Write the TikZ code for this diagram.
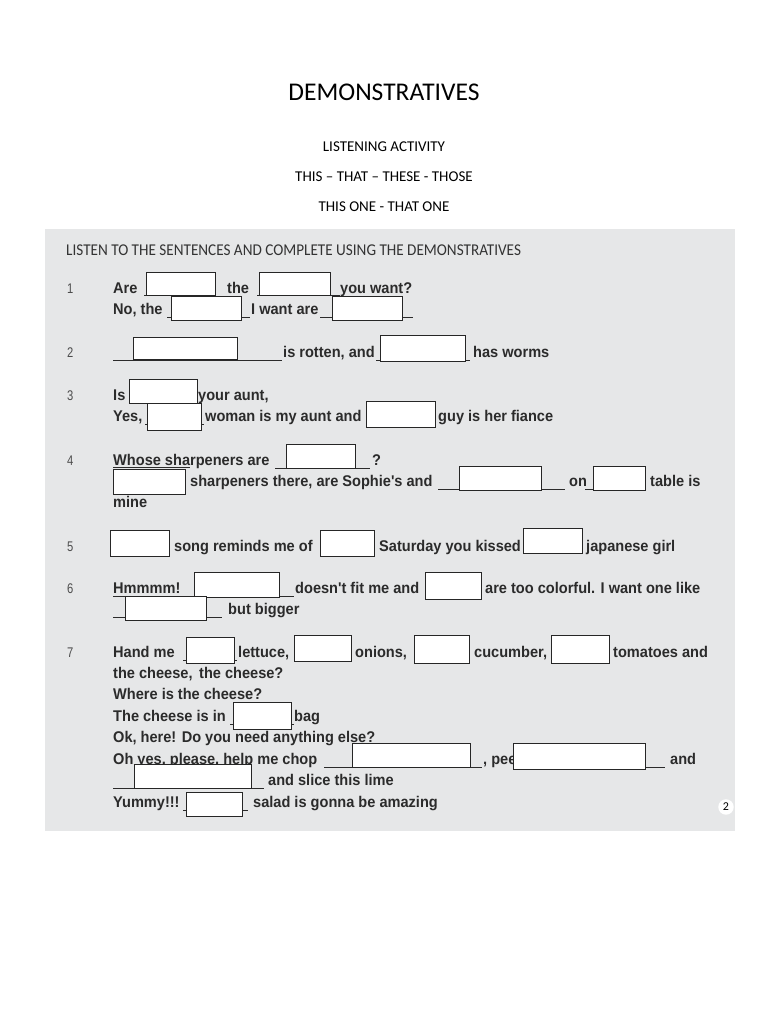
\documentclass[tikz,border=0pt]{standalone}
\usepackage{fontspec}
\setmainfont{Carlito}
\newfontfamily\narrowb[FakeStretch=0.94]{Liberation Sans}
\newfontfamily\narrowr[FakeStretch=0.8]{Liberation Sans}
\newfontfamily\calib[FakeStretch=0.92]{Carlito}
\definecolor{panel}{HTML}{E6E7E8}
\definecolor{ink}{HTML}{2B2B2B}
\newcounter{tn}\newcounter{bn}
\newcommand\T[3]{\stepcounter{tn}\node[txt] (t\arabic{tn}) at (#1,-#2) {#3};}
\newcommand\N[3]{\stepcounter{tn}\node[num] (t\arabic{tn}) at (#1,-#2) {#3};}
\newcommand\B[4]{\stepcounter{bn}\node[box,minimum width=#3-#1,minimum height=#4-#2] (b\arabic{bn}) at ({(#1+#3)/2},{-(#2+#4)/2}) {};}
\newcommand\U[3]{\stepcounter{bn}\coordinate (ua\arabic{bn}) at (#1,-#3);\coordinate (ub\arabic{bn}) at (#2,-#3);\draw[uline] (ua\arabic{bn}) -- (ub\arabic{bn});}
\begin{document}
\begin{tikzpicture}[x=1pt,y=1pt,
  txt/.style={anchor=base west,inner sep=0pt,font=\narrowb\bfseries\fontsize{15.5}{17}\selectfont,text=ink},
  num/.style={anchor=base west,inner sep=0pt,font=\narrowr\fontsize{14}{16}\selectfont,text=black!70},
  box/.style={draw=black!85,fill=white,line width=0.8pt,inner sep=0pt},
  uline/.style={draw=ink,line width=0.9pt},
  head/.style={anchor=base,inner sep=0pt,text=black}]
\useasboundingbox (0,0) rectangle (768,-1024);
\fill[white] (0,0) rectangle (768,-1024);
\node[head,font=\fontsize{25.5}{28}\selectfont] (title) at (384,-101) {DEMONSTRATIVES};
\node[head,font=\fontsize{15}{17}\selectfont] (s1) at (384,-152) {LISTENING ACTIVITY};
\node[head,font=\fontsize{15}{17}\selectfont] (s2) at (384,-182) {THIS – THAT – THESE - THOSE};
\node[head,font=\fontsize{15}{17}\selectfont] (s3) at (384,-212) {THIS ONE - THAT ONE};
\fill[panel] (45,-229) rectangle (735,-831);
\node[anchor=base west,inner sep=0pt,font=\calib\fontsize{16.5}{18}\selectfont,text=black!80] (hd) at (66,-255) {LISTEN TO THE SENTENCES AND COMPLETE USING THE DEMONSTRATIVES};
% numbers
\N{67}{293}{1}\N{67}{357}{2}\N{67}{400}{3}\N{67}{465}{4}\N{67}{551}{5}\N{67}{593}{6}\N{67}{657}{7}
% 1
\T{113}{293}{Are}\U{144}{216}{295}\T{227}{293}{the}\U{257}{340}{295}\T{340}{293}{you want?}
\T{113}{314}{No, the}\U{167}{250}{317}\T{251}{314}{I want are}\U{320}{413}{317}
\B{146}{272}{215}{295}\B{259}{272}{330}{295}\B{171}{296}{241}{320}\B{332}{296}{402}{320}
% 2
\U{113}{282}{360}\T{283}{357}{is rotten, and}\U{376}{470}{360}\T{473}{357}{has worms}
\B{133}{337}{237}{359}\B{380}{335}{465}{361}
% 3
\T{113}{400}{Is}\B{129}{379}{197}{403}\T{198}{400}{your aunt,}
\T{113}{421}{Yes,}\U{145}{204}{424}\B{147}{403}{201}{430}\T{205}{421}{woman is my aunt and}\B{366}{401}{435}{427}\T{438}{421}{guy is her fiance}
% 4
\T{113}{465}{Whose sharpeners are}\U{113}{190}{467}\U{275}{370}{468}\B{286}{444}{355}{468}\T{372}{465}{?}
\B{113}{469}{185}{494}\T{190}{486}{sharpeners there, are Sophie's and}\U{438}{565}{489}\B{459}{466}{541}{490}\T{569}{486}{on}\U{585}{593}{489}\B{593}{466}{645}{490}\T{650}{486}{table is}
\T{113}{507}{mine}
% 5
\B{110}{530}{169}{556}\T{174}{551}{song reminds me of}\B{320}{530}{374}{556}\T{379}{551}{Saturday you kissed}\B{523}{528}{582}{553}\T{586}{551}{japanese girl}
% 6
\T{113}{593}{Hmmmm!}\U{113}{175}{596}\U{194}{294}{596}\B{194}{572}{279}{597}\T{295}{593}{doesn't fit me and}\B{425}{572}{481}{599}\T{485}{593}{are too colorful. I want one like}
\U{113}{222}{617}\B{125}{596}{206}{620}\T{228}{614}{but bigger}
% 7
\T{113}{657}{Hand me}\U{183}{237}{660}\B{186}{637}{234}{663}\T{238}{657}{lettuce,}\B{294}{635}{351}{661}\T{355}{657}{onions,}\B{414}{635}{469}{663}\T{474}{657}{cucumber,}\B{551}{635}{609}{663}\T{613}{657}{tomatoes and}
\T{113}{678}{the cheese,\, the cheese?}
\T{113}{699}{Where is the cheese?}
\T{113}{721}{The cheese is in}\U{230}{294}{724}\B{233}{702}{291}{729}\T{294}{721}{bag}
\T{113}{742}{Ok, here! Do you need anything else?}
\T{113}{764}{Oh yes, please, help me chop}\U{324}{482}{767}\B{352}{743}{470}{767}\T{483}{764}{, peel}\U{516}{665}{767}\B{513}{743}{645}{769}\T{670}{764}{and}
\U{113}{264}{788}\B{134}{764}{251}{788}\T{268}{785}{and slice this lime}
\T{113}{807}{Yummy!!!}\U{183}{248}{810}\B{186}{792}{242}{816}\T{253}{807}{salad is gonna be amazing}
\node[circle,fill=white,inner sep=2pt,font=\fontsize{12}{13}\selectfont] (pg) at (726,-807) {2};
\end{tikzpicture}
\end{document}
